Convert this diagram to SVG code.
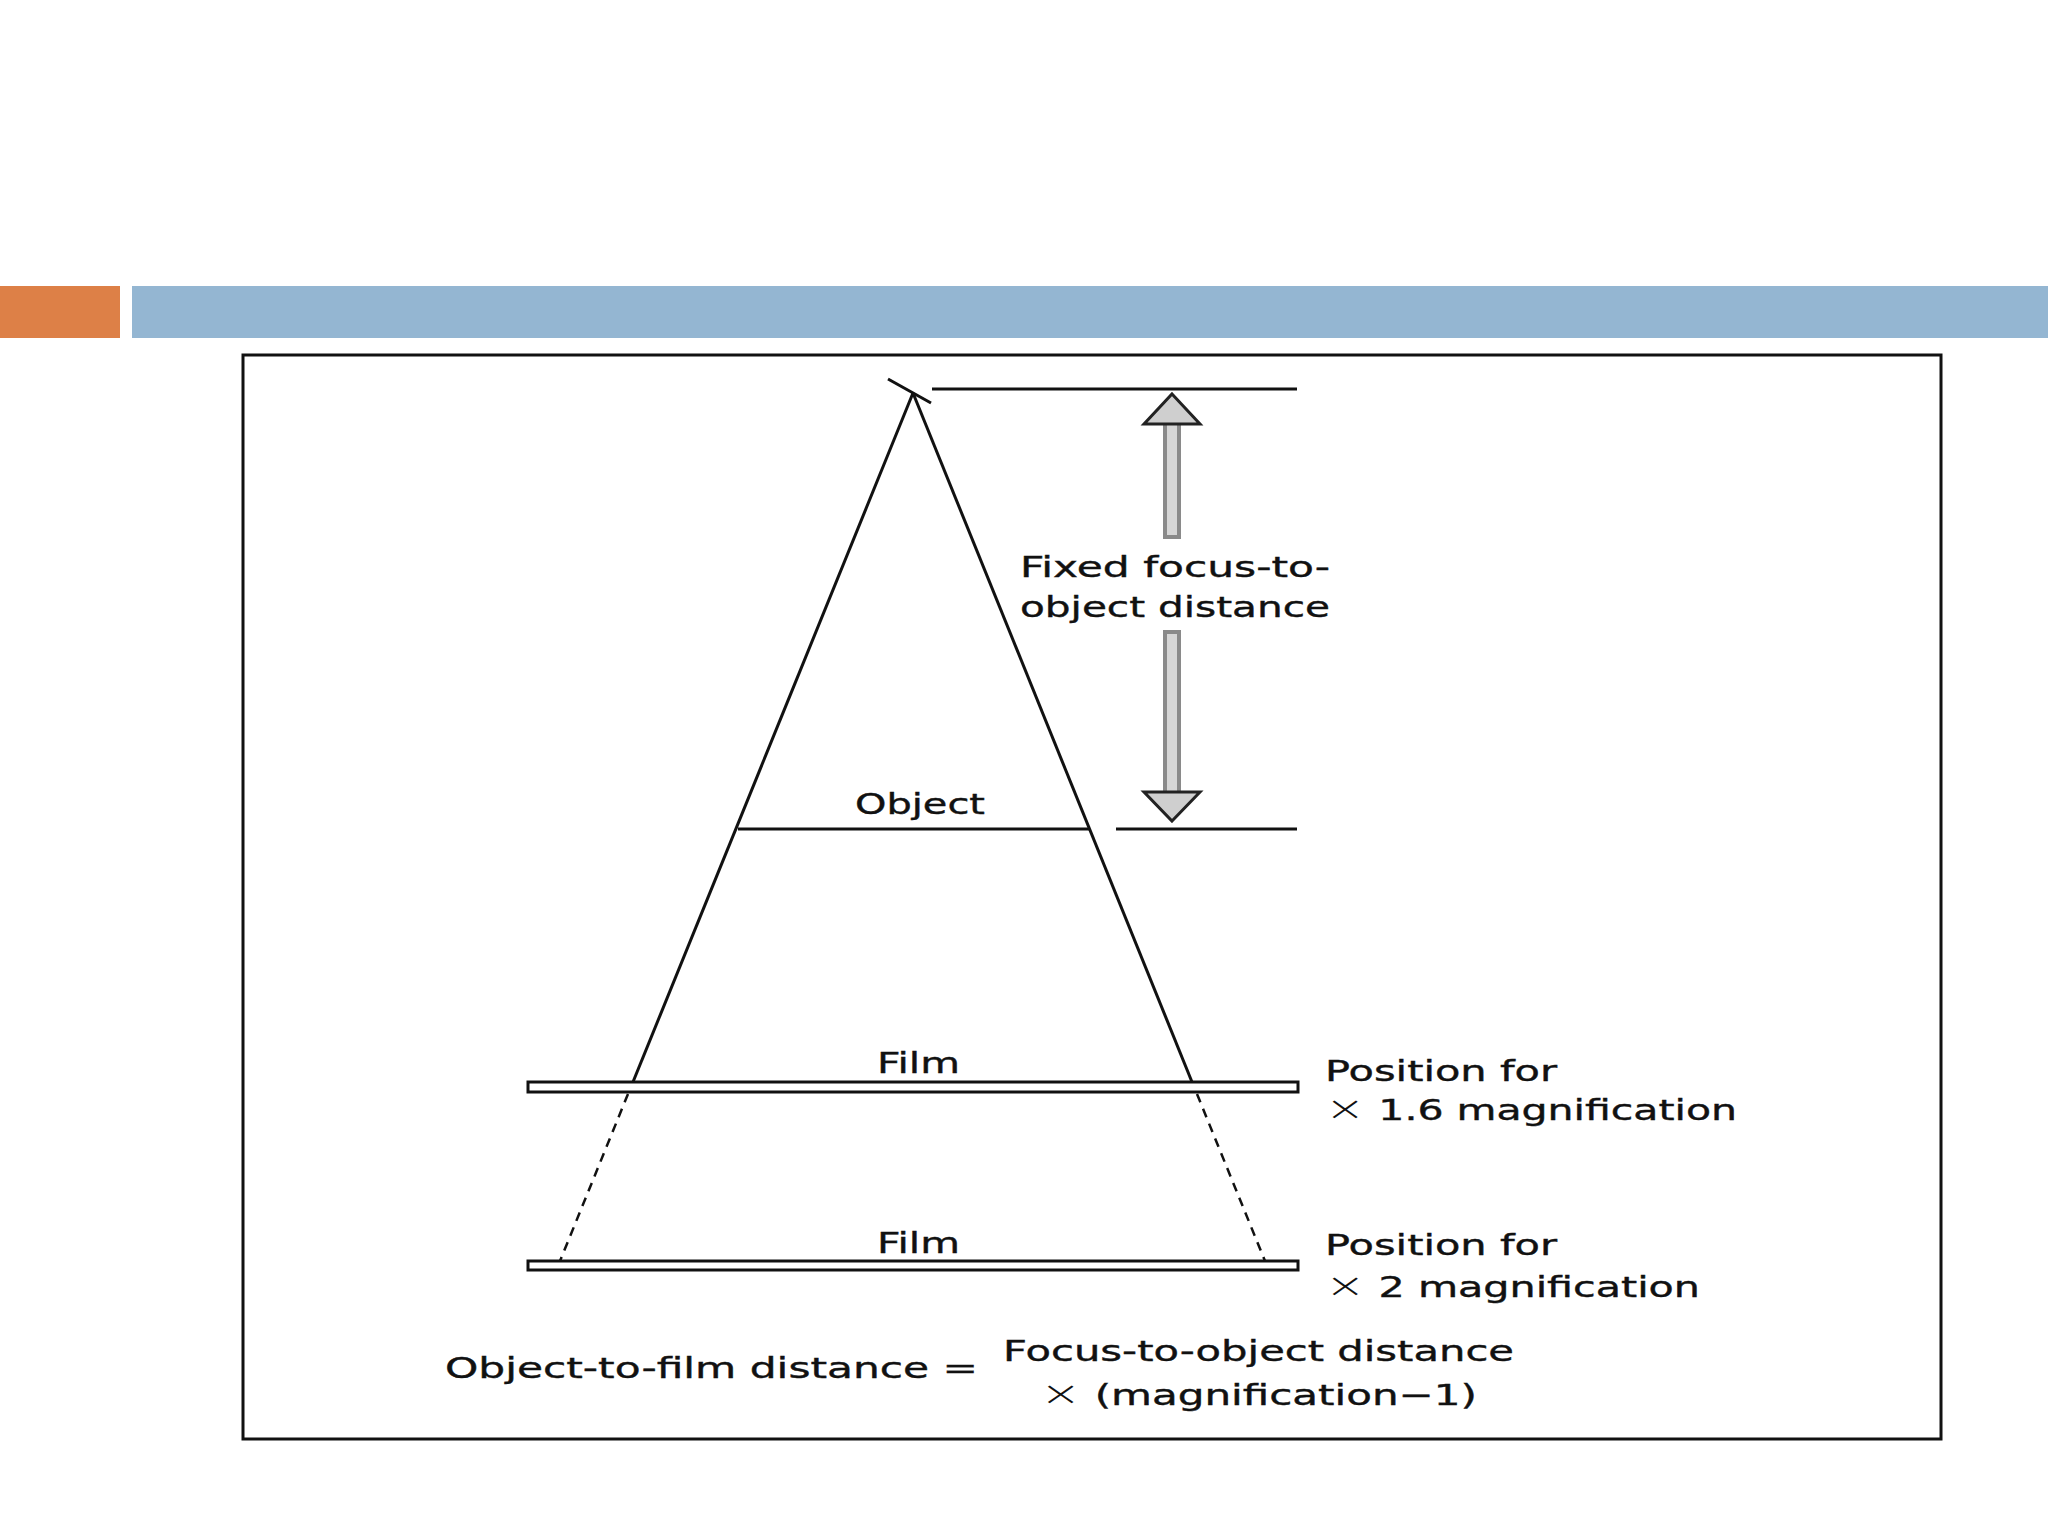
<svg xmlns="http://www.w3.org/2000/svg" width="2048" height="1536" viewBox="0 0 2048 1536">
<style>
  .t { font-family: "DejaVu Sans", "Liberation Sans", sans-serif; font-size: 29px; fill: #111; stroke: #111; stroke-width: 0.4; }
  .x { font-size: 34px; stroke-width: 0; font-weight: 300; }
  .ln { stroke: #111; stroke-width: 3; fill: none; }
  .film { fill: #fff; stroke: #111; stroke-width: 3; }
  .dash { stroke: #111; stroke-width: 2.5; fill: none; stroke-dasharray: 9 7; }
  .shaft { fill: #d6d6d6; stroke: #8a8a8a; stroke-width: 4; }
  .head { fill: #cfcfcf; stroke: #222; stroke-width: 3; stroke-linejoin: miter; }
</style>
<rect x="0" y="0" width="2048" height="1536" fill="#fff"/>
<g id="header">
  <rect x="0" y="286" width="120" height="52" fill="#DD8047"/>
  <rect x="132" y="286" width="1916" height="52" fill="#94B6D2"/>
</g>
<g id="frame">
  <rect x="243" y="355" width="1698" height="1084" fill="#fff" stroke="#111" stroke-width="3"/>
</g>
<g id="connectors">
  <line class="ln" x1="888" y1="379" x2="931" y2="403"/>
  <line class="ln" x1="913" y1="393" x2="633" y2="1082"/>
  <line class="ln" x1="913" y1="393" x2="1192" y2="1082"/>
  <line class="ln" x1="932" y1="389" x2="1297" y2="389"/>
  <line class="ln" x1="738" y1="829" x2="1090" y2="829"/>
  <line class="ln" x1="1116" y1="829" x2="1297" y2="829"/>
  <line class="dash" x1="628" y1="1094" x2="560" y2="1261"/>
  <line class="dash" x1="1197" y1="1094" x2="1265" y2="1261"/>
</g>
<g id="arrow">
  <rect class="shaft" x="1165" y="422" width="14" height="115"/>
  <rect class="shaft" x="1165" y="632" width="14" height="162"/>
  <polygon class="head" points="1172,394 1200,424 1144,424"/>
  <polygon class="head" points="1172,821 1200,792 1144,792"/>
</g>
<g id="film1">
  <rect class="film" x="528" y="1082" width="770" height="10"/>
  <text class="t" x="877" y="1073" textLength="83" lengthAdjust="spacingAndGlyphs">Film</text>
</g>
<g id="film2">
  <rect class="film" x="528" y="1261" width="770" height="9"/>
  <text class="t" x="877" y="1253" textLength="83" lengthAdjust="spacingAndGlyphs">Film</text>
</g>
<g id="object">
  <text class="t" x="855" y="814" textLength="130" lengthAdjust="spacingAndGlyphs">Object</text>
</g>
<g id="distance-label">
  <text class="t" x="1020" y="577" textLength="310" lengthAdjust="spacingAndGlyphs">Fixed focus-to-</text>
  <text class="t" x="1020" y="617" textLength="310" lengthAdjust="spacingAndGlyphs">object distance</text>
</g>
<g id="pos1">
  <text class="t" x="1325" y="1081" textLength="232" lengthAdjust="spacingAndGlyphs">Position for</text>
  <text class="t" x="1325" y="1120" textLength="412" lengthAdjust="spacingAndGlyphs"><tspan class="x">×</tspan> 1.6 magnification</text>
</g>
<g id="pos2">
  <text class="t" x="1325" y="1255" textLength="232" lengthAdjust="spacingAndGlyphs">Position for</text>
  <text class="t" x="1325" y="1297" textLength="375" lengthAdjust="spacingAndGlyphs"><tspan class="x">×</tspan> 2 magnification</text>
</g>
<g id="formula">
  <text class="t" x="445" y="1378" textLength="533" lengthAdjust="spacingAndGlyphs">Object-to-film distance =</text>
  <text class="t" x="1003" y="1361" textLength="511" lengthAdjust="spacingAndGlyphs">Focus-to-object distance</text>
  <text class="t" x="1040" y="1405" textLength="437" lengthAdjust="spacingAndGlyphs"><tspan class="x">×</tspan> (magnification−1)</text>
</g>
</svg>
